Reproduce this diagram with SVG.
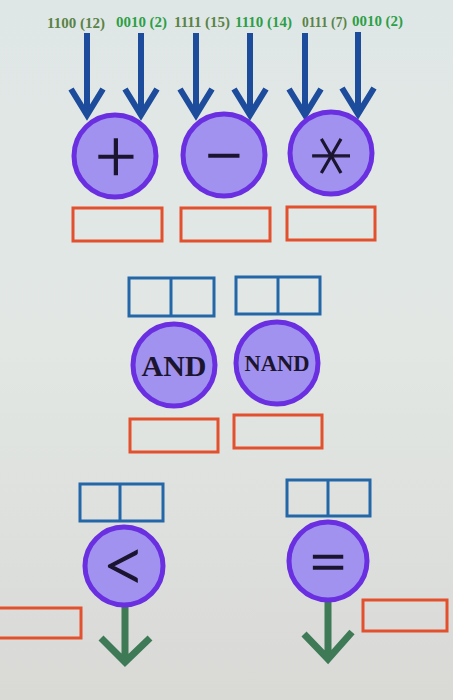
<svg xmlns="http://www.w3.org/2000/svg" width="453" height="700" viewBox="0 0 453 700">
<defs>
<linearGradient id="bg" x1="0" y1="0" x2="0" y2="1">
<stop offset="0" stop-color="#dfe7e6"/>
<stop offset="0.5" stop-color="#e2e7e4"/>
<stop offset="1" stop-color="#d9d9d6"/>
</linearGradient>
</defs>
<style>
.lbl{font-family:"Liberation Serif","Times New Roman",serif;font-weight:bold;font-size:15px}
.g1{fill:#5a8347}
.g2{fill:#2c9f47}
.in{stroke:#1d4c9c;stroke-width:6;fill:none;stroke-linecap:butt}
.out{stroke:#3f7a57;stroke-width:7;fill:none}
.op{fill:#a092ee;stroke:#6a2fe0;stroke-width:5}
.res{fill:none;stroke:#e2502d;stroke-width:3}
.pair{fill:none;stroke:#2467a8;stroke-width:3}
.sym{font-family:Lato,"DejaVu Sans",sans-serif;font-weight:300;fill:#1c1530;stroke:#1c1530;stroke-width:1.4;text-anchor:middle}
.word{font-family:"Liberation Serif","Times New Roman",serif;font-weight:bold;fill:#1c1530;text-anchor:middle}
</style>
<rect width="453" height="700" fill="url(#bg)"/>

<g id="labels">
<text class="lbl g1" x="47" y="28" textLength="58" lengthAdjust="spacingAndGlyphs">1100 (12)</text>
<text class="lbl g2" x="116" y="27" textLength="51" lengthAdjust="spacingAndGlyphs">0010 (2)</text>
<text class="lbl g1" x="174" y="27" textLength="56" lengthAdjust="spacingAndGlyphs">1111 (15)</text>
<text class="lbl g2" x="235" y="27" textLength="57" lengthAdjust="spacingAndGlyphs">1110 (14)</text>
<text class="lbl g1" x="302" y="27" textLength="45" lengthAdjust="spacingAndGlyphs">0111 (7)</text>
<text class="lbl g2" x="352" y="26" textLength="51" lengthAdjust="spacingAndGlyphs">0010 (2)</text>
</g>

<g id="connectors">
<path class="in" d="M87 33V114M71 89L87 115L103 89"/>
<path class="in" d="M141 33V114M125 89L141 115L157 89"/>
<path class="in" d="M196 33V114M180 89L196 115L212 89"/>
<path class="in" d="M250 33V114M234 89L250 115L266 89"/>
<path class="in" d="M305 33V114M289 89L305 115L321 89"/>
<path class="in" d="M358 32V113M342 88L358 114L374 88"/>
<path class="out" d="M125 604V661M101 638L125 662L150 638"/>
<path class="out" d="M328 599V659M304 634L328 659L352 632"/>
</g>

<g id="add">
<circle class="op" cx="115" cy="156" r="41"/>
<text class="sym" x="116" y="181" font-size="72">+</text>
</g>
<g id="sub">
<circle class="op" cx="224" cy="155" r="41"/>
<text class="sym" x="224" y="180" font-size="72">−</text>
</g>
<g id="mul">
<circle class="op" cx="331" cy="153" r="41"/>
<text class="sym" x="0" y="0" font-size="80" font-family="DejaVu Sans" font-weight="normal" stroke-width="1.2" transform="translate(331 156) rotate(90) translate(0 25)">∗</text>
</g>

<g id="res-add"><rect class="res" x="73" y="208" width="89" height="33"/></g>
<g id="res-sub"><rect class="res" x="181" y="208" width="89" height="33"/></g>
<g id="res-mul"><rect class="res" x="287" y="207" width="88" height="33"/></g>

<g id="in-and"><rect class="pair" x="129" y="278" width="85" height="38"/><line class="pair" x1="171" y1="278" x2="171" y2="316"/></g>
<g id="in-nand"><rect class="pair" x="236" y="277" width="84" height="37"/><line class="pair" x1="278" y1="277" x2="278" y2="314"/></g>

<g id="and">
<circle class="op" cx="174" cy="365" r="41"/>
<text class="word" x="174" y="376" font-size="30">AND</text>
</g>
<g id="nand">
<circle class="op" cx="277" cy="363" r="41"/>
<text class="word" x="277" y="371" font-size="22.5">NAND</text>
</g>

<g id="res-and"><rect class="res" x="130" y="419" width="88" height="33"/></g>
<g id="res-nand"><rect class="res" x="234" y="415" width="88" height="33"/></g>

<g id="in-lt"><rect class="pair" x="80" y="484" width="83" height="37"/><line class="pair" x1="120" y1="484" x2="120" y2="521"/></g>
<g id="in-eq"><rect class="pair" x="287" y="480" width="83" height="36"/><line class="pair" x1="328" y1="480" x2="328" y2="516"/></g>

<g id="lt">
<circle class="op" cx="124" cy="566" r="39"/>
<text class="sym" x="124" y="592" font-size="76">&lt;</text>
</g>
<g id="eq">
<circle class="op" cx="328" cy="561" r="39"/>
<text class="sym" x="328" y="586" font-size="70">=</text>
</g>

<g id="res-lt"><rect class="res" x="-3" y="608" width="84" height="30"/></g>
<g id="res-eq"><rect class="res" x="363" y="600" width="84" height="31"/></g>
</svg>
